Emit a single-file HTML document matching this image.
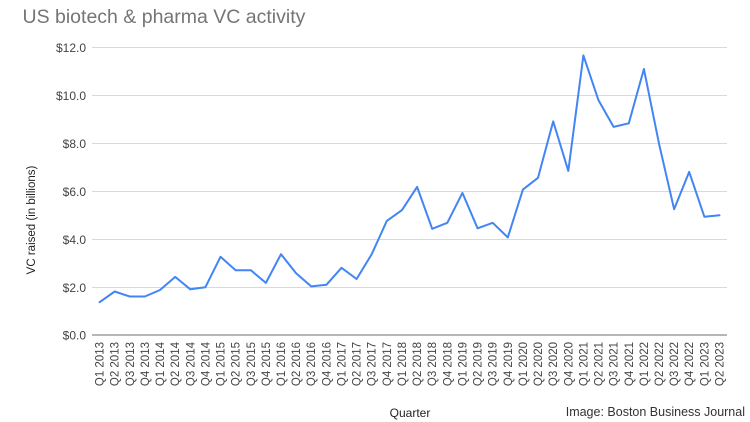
<!DOCTYPE html>
<html>
<head>
<meta charset="utf-8">
<style>
  html, body { margin: 0; padding: 0; background: #ffffff; }
  body { width: 750px; height: 422px; overflow: hidden; }
  svg { display: block; }
  text { font-family: "Liberation Sans", Arial, sans-serif; }
</style>
</head>
<body>
<svg width="750" height="422" viewBox="0 0 750 422" xmlns="http://www.w3.org/2000/svg">
  <rect x="0" y="0" width="750" height="422" fill="#ffffff"/>

  <!-- Title -->
  <text x="22.5" y="23" font-size="19.5" fill="#757575">US biotech &amp; pharma VC activity</text>

  <!-- Gridlines -->
  <g stroke="#d9d9d9" stroke-width="1">
    <line x1="92" y1="47.5" x2="727" y2="47.5"/>
    <line x1="92" y1="95.5" x2="727" y2="95.5"/>
    <line x1="92" y1="143.5" x2="727" y2="143.5"/>
    <line x1="92" y1="191.5" x2="727" y2="191.5"/>
    <line x1="92" y1="239.5" x2="727" y2="239.5"/>
    <line x1="92" y1="287.5" x2="727" y2="287.5"/>
  </g>
  <line x1="92" y1="335" x2="727" y2="335" stroke="#9e9e9e" stroke-width="1.5"/>

  <!-- Y tick labels -->
  <g font-size="12" fill="#444444" text-anchor="end">
    <text x="86" y="52">$12.0</text>
    <text x="86" y="100">$10.0</text>
    <text x="86" y="148">$8.0</text>
    <text x="86" y="196">$6.0</text>
    <text x="86" y="244">$4.0</text>
    <text x="86" y="292">$2.0</text>
    <text x="86" y="339.5">$0.0</text>
  </g>

  <!-- Y axis title -->
  <text transform="translate(35,220) rotate(-90)" font-size="11.5" fill="#222222" text-anchor="middle">VC raised (in billions)</text>

  <!-- Data line -->
  <polyline fill="none" stroke="#4285f4" stroke-width="2" stroke-linejoin="round" stroke-linecap="round"
    points="99.6,302.2 114.7,291.5 129.8,296.5 144.9,296.5 160.0,290.0 175.2,276.9 190.3,289.3 205.4,287.2 220.5,256.8 235.6,270.2 250.8,270.2 265.9,282.9 281.0,254.2 296.1,273.3 311.2,286.4 326.4,284.8 341.5,267.8 356.6,279.0 371.7,254.2 386.8,220.9 402.0,210.1 417.1,186.9 432.2,228.8 447.3,222.8 462.4,192.9 477.6,228.3 492.7,222.8 507.8,237.4 522.9,189.6 538.0,177.8 553.2,121.4 568.3,170.9 583.4,55.4 598.5,100.3 613.6,126.9 628.8,123.3 643.9,69.0 659.0,143.6 674.1,209.2 689.2,171.9 704.4,216.8 719.5,215.2"/>

  <!-- X tick labels -->
  <g font-size="11.5" fill="#444444" text-anchor="end">
    <text transform="translate(99.6,342) rotate(-90)" dy="0.35em">Q1 2013</text>
    <text transform="translate(114.7,342) rotate(-90)" dy="0.35em">Q2 2013</text>
    <text transform="translate(129.8,342) rotate(-90)" dy="0.35em">Q3 2013</text>
    <text transform="translate(144.9,342) rotate(-90)" dy="0.35em">Q4 2013</text>
    <text transform="translate(160.0,342) rotate(-90)" dy="0.35em">Q1 2014</text>
    <text transform="translate(175.2,342) rotate(-90)" dy="0.35em">Q2 2014</text>
    <text transform="translate(190.3,342) rotate(-90)" dy="0.35em">Q3 2014</text>
    <text transform="translate(205.4,342) rotate(-90)" dy="0.35em">Q4 2014</text>
    <text transform="translate(220.5,342) rotate(-90)" dy="0.35em">Q1 2015</text>
    <text transform="translate(235.6,342) rotate(-90)" dy="0.35em">Q2 2015</text>
    <text transform="translate(250.8,342) rotate(-90)" dy="0.35em">Q3 2015</text>
    <text transform="translate(265.9,342) rotate(-90)" dy="0.35em">Q4 2015</text>
    <text transform="translate(281.0,342) rotate(-90)" dy="0.35em">Q1 2016</text>
    <text transform="translate(296.1,342) rotate(-90)" dy="0.35em">Q2 2016</text>
    <text transform="translate(311.2,342) rotate(-90)" dy="0.35em">Q3 2016</text>
    <text transform="translate(326.4,342) rotate(-90)" dy="0.35em">Q4 2016</text>
    <text transform="translate(341.5,342) rotate(-90)" dy="0.35em">Q1 2017</text>
    <text transform="translate(356.6,342) rotate(-90)" dy="0.35em">Q2 2017</text>
    <text transform="translate(371.7,342) rotate(-90)" dy="0.35em">Q3 2017</text>
    <text transform="translate(386.8,342) rotate(-90)" dy="0.35em">Q4 2017</text>
    <text transform="translate(402.0,342) rotate(-90)" dy="0.35em">Q1 2018</text>
    <text transform="translate(417.1,342) rotate(-90)" dy="0.35em">Q2 2018</text>
    <text transform="translate(432.2,342) rotate(-90)" dy="0.35em">Q3 2018</text>
    <text transform="translate(447.3,342) rotate(-90)" dy="0.35em">Q4 2018</text>
    <text transform="translate(462.4,342) rotate(-90)" dy="0.35em">Q1 2019</text>
    <text transform="translate(477.6,342) rotate(-90)" dy="0.35em">Q2 2019</text>
    <text transform="translate(492.7,342) rotate(-90)" dy="0.35em">Q3 2019</text>
    <text transform="translate(507.8,342) rotate(-90)" dy="0.35em">Q4 2019</text>
    <text transform="translate(522.9,342) rotate(-90)" dy="0.35em">Q1 2020</text>
    <text transform="translate(538.0,342) rotate(-90)" dy="0.35em">Q2 2020</text>
    <text transform="translate(553.2,342) rotate(-90)" dy="0.35em">Q3 2020</text>
    <text transform="translate(568.3,342) rotate(-90)" dy="0.35em">Q4 2020</text>
    <text transform="translate(583.4,342) rotate(-90)" dy="0.35em">Q1 2021</text>
    <text transform="translate(598.5,342) rotate(-90)" dy="0.35em">Q2 2021</text>
    <text transform="translate(613.6,342) rotate(-90)" dy="0.35em">Q3 2021</text>
    <text transform="translate(628.8,342) rotate(-90)" dy="0.35em">Q4 2021</text>
    <text transform="translate(643.9,342) rotate(-90)" dy="0.35em">Q1 2022</text>
    <text transform="translate(659.0,342) rotate(-90)" dy="0.35em">Q2 2022</text>
    <text transform="translate(674.1,342) rotate(-90)" dy="0.35em">Q3 2022</text>
    <text transform="translate(689.2,342) rotate(-90)" dy="0.35em">Q4 2022</text>
    <text transform="translate(704.4,342) rotate(-90)" dy="0.35em">Q1 2023</text>
    <text transform="translate(719.5,342) rotate(-90)" dy="0.35em">Q2 2023</text>
  </g>

  <!-- X axis title -->
  <text x="410" y="417" font-size="12" fill="#222222" text-anchor="middle">Quarter</text>

  <!-- Credit -->
  <text x="745" y="416" font-size="12.5" fill="#333333" text-anchor="end">Image: Boston Business Journal</text>
</svg>
</body>
</html>
